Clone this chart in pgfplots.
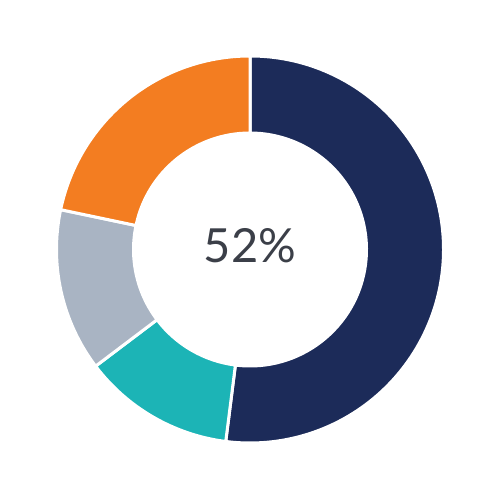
\documentclass[border=0pt]{standalone}
\usepackage{pgfplots}
\pgfplotsset{compat=1.18}
\usepackage{fontspec}
\setmainfont{Lato}

\definecolor{navy}{HTML}{1C2B59}
\definecolor{teal}{HTML}{1CB4B6}
\definecolor{slate}{HTML}{A9B4C3}
\definecolor{orange}{HTML}{F37D21}
\definecolor{txt}{HTML}{3B3F48}

% share of each slice, in percent, clockwise from 12 o'clock
\def\slices{52/navy, 12.7/teal, 13.6/slate, 21.7/orange}

\begin{document}
\begin{tikzpicture}
\begin{axis}[
    scale only axis, width=500bp, height=500bp,
    xmin=-250, xmax=250, ymin=-250, ymax=250,
    ticks=none, axis line style={draw=none}, clip=false]
\pgfplotsextra{
  \foreach \v/\c [remember=\b as \a (initially 90)] in \slices {
    \pgfmathsetmacro\b{\a-3.6*\v}
    \filldraw[fill=\c, draw=white, line width=3bp, line join=miter]
      ([shift={(\a:193.5bp)}]axis cs:0,0.5)
      arc[start angle=\a, end angle=\b, radius=193.5bp]
      -- ([shift={(\b:116.5bp)}]axis cs:0,0.5)
      arc[start angle=\b, end angle=\a, radius=116.5bp] -- cycle;
  }
}
\node[text=txt, font=\fontsize{47bp}{50bp}\selectfont] at (axis cs:0,4) {52\%};
\end{axis}
\end{tikzpicture}
\end{document}
